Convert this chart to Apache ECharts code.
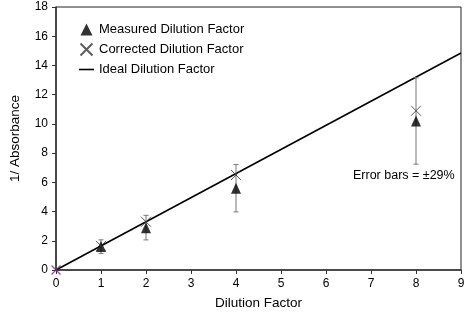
<!DOCTYPE html>
<html>
<head>
<meta charset="utf-8">
<script src="https://cdn.jsdelivr.net/npm/echarts@6/dist/echarts.min.js"></script>
<style>
  html, body { margin: 0; padding: 0; background: #fff; }
  #chart { width: 474px; height: 325px; }
</style>
</head>
<body>
<div id="chart"></div>
<script>
// Dilution factors tested
const dilution = [1, 2, 4, 8];
// 1/Absorbance as measured
const measured = [1.6, 2.9, 5.6, 10.2];
// 1/Absorbance after correction
const corrected = [1.65, 3.3, 6.5, 10.9];
// Ideal response line end points
const idealLine = [[0, 0], [9, 14.85]];
// Relative error used for the error bars
const errorFraction = 0.29;

const FONT = 'Liberation Sans, Arial, sans-serif';
const X_PATH = 'path://M0,0L10,10M10,0L0,10';
const TRI_PATH = 'path://M5,0L10,10L0,10Z';
const LINE_PATH = 'path://M0,0L15,0L15,1.6L0,1.6Z';

const errorData = dilution.map((d, i) => [d, measured[i] * (1 - errorFraction), measured[i] * (1 + errorFraction)]);

const chart = echarts.init(document.getElementById('chart'));
chart.setOption({
  animation: false,
  backgroundColor: '#fff',
  grid: { left: 53, right: 13, top: 7, bottom: 55, show: true, borderColor: '#222', borderWidth: 1 },
  legend: {
    orient: 'vertical',
    left: 73, top: 18,
    itemGap: 5,
    itemWidth: 15, itemHeight: 12,
    symbolKeepAspect: true,
    textStyle: { fontFamily: FONT, fontSize: 13, color: '#000' },
    data: [
      { name: 'Measured Dilution Factor', icon: TRI_PATH },
      { name: 'Corrected Dilution Factor' },
      { name: 'Ideal Dilution Factor', icon: LINE_PATH }
    ]
  },
  xAxis: {
    type: 'value', min: 0, max: 9, interval: 1,
    name: 'Dilution Factor', nameLocation: 'middle', nameGap: 26,
    nameTextStyle: { fontFamily: FONT, fontSize: 13.5, color: '#000' },
    axisLine: { lineStyle: { color: '#333', width: 1.5 } },
    axisTick: { show: true, length: 4, lineStyle: { color: '#333' } },
    axisLabel: { fontFamily: FONT, fontSize: 12, color: '#000', margin: 8 },
    splitLine: { show: false }
  },
  yAxis: {
    type: 'value', min: 0, max: 18, interval: 2,
    name: '1/ Absorbance', nameLocation: 'middle', nameGap: 34,
    nameTextStyle: { fontFamily: FONT, fontSize: 13.5, color: '#000' },
    axisLine: { lineStyle: { color: '#333', width: 1.5 } },
    axisTick: { show: true, length: 4, lineStyle: { color: '#333' } },
    axisLabel: { fontFamily: FONT, fontSize: 12, color: '#000', margin: 8 },
    splitLine: { show: false }
  },
  series: [
    {
      name: 'Ideal Dilution Factor',
      type: 'line',
      data: idealLine,
      symbol: 'none',
      lineStyle: { color: '#000', width: 1.6 },
      itemStyle: { color: '#000' },
      z: 2
    },
    {
      name: 'error',
      type: 'custom',
      data: errorData,
      renderItem: function (params, api) {
        const x = api.value(0);
        const lo = api.coord([x, api.value(1)]);
        const hi = api.coord([x, api.value(2)]);
        const cap = 2.5;
        const style = { stroke: '#777', lineWidth: 1 };
        return {
          type: 'group',
          children: [
            { type: 'line', shape: { x1: lo[0], y1: lo[1], x2: hi[0], y2: hi[1] }, style: style },
            { type: 'line', shape: { x1: lo[0] - cap, y1: lo[1], x2: lo[0] + cap, y2: lo[1] }, style: style },
            { type: 'line', shape: { x1: hi[0] - cap, y1: hi[1], x2: hi[0] + cap, y2: hi[1] }, style: style }
          ]
        };
      },
      z: 3
    },
    {
      name: 'Measured Dilution Factor',
      type: 'scatter',
      data: dilution.map((d, i) => [d, measured[i]]),
      symbol: 'triangle',
      symbolSize: [10, 11],
      itemStyle: { color: '#000' },
      z: 4
    },
    {
      name: 'Corrected Dilution Factor',
      type: 'scatter',
      data: dilution.map((d, i) => [d, corrected[i]]),
      symbol: X_PATH,
      symbolSize: 10,
      itemStyle: { color: 'none', borderColor: '#333', borderWidth: 1 },
      z: 5
    },
    {
      name: 'origin',
      type: 'scatter',
      data: [[0, 0]],
      symbol: X_PATH,
      symbolSize: 9,
      itemStyle: { color: 'none', borderColor: '#7a2a8a', borderWidth: 1.4 },
      z: 6
    }
  ],
  graphic: [
    {
      type: 'text',
      left: 353, top: 169,
      style: { text: 'Error bars = \u00b129%', fontFamily: FONT, fontSize: 12.5, fill: '#000' }
    }
  ]
});
</script>
</body>
</html>
